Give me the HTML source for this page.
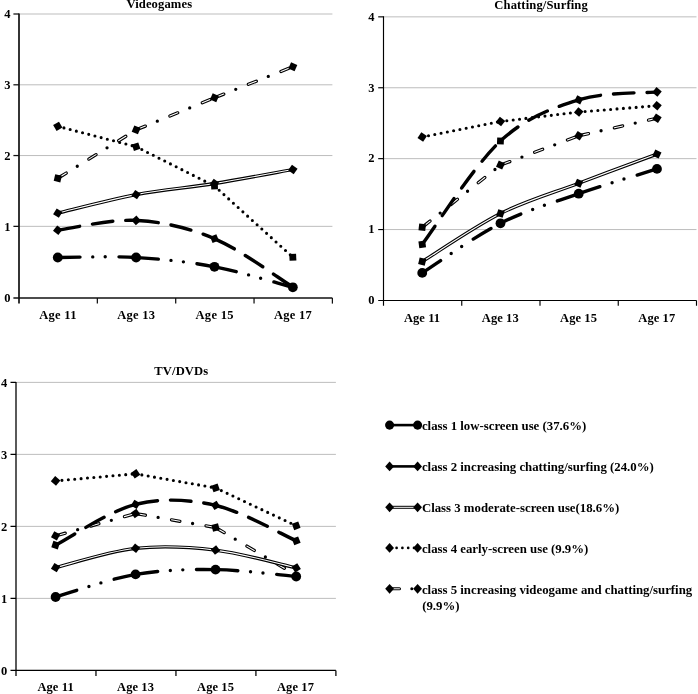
<!DOCTYPE html>
<html><head><meta charset="utf-8"><title>Screen use trajectories</title>
<style>html,body{margin:0;padding:0;background:#fff}svg{display:block}</style></head>
<body>
<svg width="698" height="694" viewBox="0 0 698 694">
<rect width="698" height="694" fill="#fff"/>
<line x1="19" y1="226.35" x2="332.4" y2="226.35" stroke="#bdbdbd" stroke-width="1"/>
<line x1="19" y1="155.55" x2="332.4" y2="155.55" stroke="#bdbdbd" stroke-width="1"/>
<line x1="19" y1="84.8" x2="332.4" y2="84.8" stroke="#bdbdbd" stroke-width="1"/>
<line x1="19" y1="14" x2="332.4" y2="14" stroke="#bdbdbd" stroke-width="1"/>
<line x1="19" y1="13.5" x2="19" y2="303.6" stroke="#111" stroke-width="1.7"/>
<line x1="13.4" y1="298" x2="332.4" y2="298" stroke="#111" stroke-width="1.7"/>
<line x1="13.4" y1="226.35" x2="19" y2="226.35" stroke="#111" stroke-width="1.25"/>
<line x1="13.4" y1="155.55" x2="19" y2="155.55" stroke="#111" stroke-width="1.25"/>
<line x1="13.4" y1="84.8" x2="19" y2="84.8" stroke="#111" stroke-width="1.25"/>
<line x1="13.4" y1="14" x2="19" y2="14" stroke="#111" stroke-width="1.25"/>
<line x1="97.35" y1="298" x2="97.35" y2="303.6" stroke="#111" stroke-width="1.25"/>
<line x1="175.7" y1="298" x2="175.7" y2="303.6" stroke="#111" stroke-width="1.25"/>
<line x1="254.05" y1="298" x2="254.05" y2="303.6" stroke="#111" stroke-width="1.25"/>
<line x1="332.4" y1="298" x2="332.4" y2="303.6" stroke="#111" stroke-width="1.25"/>
<text x="10.6" y="301.8" text-anchor="end" font-size="12.5" font-family="'Liberation Serif', 'Times New Roman', serif" font-weight="bold">0</text>
<text x="10.6" y="230.55" text-anchor="end" font-size="12.5" font-family="'Liberation Serif', 'Times New Roman', serif" font-weight="bold">1</text>
<text x="10.6" y="159.75" text-anchor="end" font-size="12.5" font-family="'Liberation Serif', 'Times New Roman', serif" font-weight="bold">2</text>
<text x="10.6" y="89" text-anchor="end" font-size="12.5" font-family="'Liberation Serif', 'Times New Roman', serif" font-weight="bold">3</text>
<text x="10.6" y="18.2" text-anchor="end" font-size="12.5" font-family="'Liberation Serif', 'Times New Roman', serif" font-weight="bold">4</text>
<text x="57.97" y="319.4" text-anchor="middle" font-size="12.5" letter-spacing="0.3" font-family="'Liberation Serif', 'Times New Roman', serif" font-weight="bold">Age 11</text>
<text x="136.32" y="319.4" text-anchor="middle" font-size="12.5" letter-spacing="0.3" font-family="'Liberation Serif', 'Times New Roman', serif" font-weight="bold">Age 13</text>
<text x="214.68" y="319.4" text-anchor="middle" font-size="12.5" letter-spacing="0.3" font-family="'Liberation Serif', 'Times New Roman', serif" font-weight="bold">Age 15</text>
<text x="293.02" y="319.4" text-anchor="middle" font-size="12.5" letter-spacing="0.3" font-family="'Liberation Serif', 'Times New Roman', serif" font-weight="bold">Age 17</text>
<text x="126.4" y="8.3" font-size="12.6" letter-spacing="0.12" font-family="'Liberation Serif', 'Times New Roman', serif" font-weight="bold">Videogames</text>
<path d="M57.77 178.3L136.12 129.9" fill="none" stroke="#000" stroke-width="3.3" stroke-linecap="round" stroke-dasharray="8.5 12.9 0 13.6" stroke-dashoffset="-1.5"/>
<path d="M57.77 178.3L136.12 129.9" fill="none" stroke="#fff" stroke-width="1.1" stroke-linecap="round" stroke-dasharray="8.5 26.5" stroke-dashoffset="-1.5"/>
<path d="M136.12 129.9L214.47 97.8" fill="none" stroke="#000" stroke-width="3.3" stroke-linecap="round" stroke-dasharray="8.5 12.9 0 13.6" stroke-dashoffset="-1.5"/>
<path d="M136.12 129.9L214.47 97.8" fill="none" stroke="#fff" stroke-width="1.1" stroke-linecap="round" stroke-dasharray="8.5 26.5" stroke-dashoffset="-1.5"/>
<path d="M214.47 97.8L292.82 66.7" fill="none" stroke="#000" stroke-width="3.3" stroke-linecap="round" stroke-dasharray="8.5 12.9 0 13.6" stroke-dashoffset="-1.5"/>
<path d="M214.47 97.8L292.82 66.7" fill="none" stroke="#fff" stroke-width="1.1" stroke-linecap="round" stroke-dasharray="8.5 26.5" stroke-dashoffset="-1.5"/>
<path d="M61.86 175.78L60.3 182.38L53.69 180.82L55.25 174.22Z" fill="#000"/>
<path d="M140.57 128.08L137.94 134.34L131.68 131.72L134.31 125.46Z" fill="#000"/>
<path d="M218.94 96.03L216.25 102.26L210.01 99.57L212.7 93.34Z" fill="#000"/>
<path d="M297.29 64.93L294.6 71.16L288.36 68.47L291.05 62.24Z" fill="#000"/>
<path d="M57.77 126.3L136.12 146.7" fill="none" stroke="#000" stroke-width="3.1" stroke-linecap="round" stroke-dasharray="0 6.4"/>
<path d="M136.12 146.7L214.47 186" fill="none" stroke="#000" stroke-width="3.1" stroke-linecap="round" stroke-dasharray="0 6.4"/>
<path d="M214.47 186L292.82 257.2" fill="none" stroke="#000" stroke-width="3.1" stroke-linecap="round" stroke-dasharray="0 6.4"/>
<path d="M62.42 127.51L56.57 130.95L53.13 125.09L58.98 121.65Z" fill="#000"/>
<path d="M140.42 148.85L133.97 150.99L131.83 144.55L138.28 142.41Z" fill="#000"/>
<path d="M218.03 189.23L211.25 189.55L210.92 182.77L217.7 182.45Z" fill="#000"/>
<path d="M296.38 260.43L289.6 260.75L289.27 253.97L296.05 253.65Z" fill="#000"/>
<path d="M57.77 213.1C70.83 210.02 110.01 199.53 136.12 194.6C162.24 189.67 188.36 187.68 214.47 183.5C240.59 179.32 279.77 171.83 292.82 169.5" fill="none" stroke="#000" stroke-width="3.3" stroke-linecap="round"/>
<path d="M57.77 213.1C70.83 210.02 110.01 199.53 136.12 194.6C162.24 189.67 188.36 187.68 214.47 183.5C240.59 179.32 279.77 171.83 292.82 169.5" fill="none" stroke="#fff" stroke-width="1.1" stroke-linecap="round"/>
<path d="M62.45 212L58.88 217.77L53.1 214.2L56.67 208.43Z" fill="#000"/>
<path d="M140.84 193.71L137.02 199.32L131.41 195.49L135.23 189.88Z" fill="#000"/>
<path d="M219.21 182.74L215.23 188.24L209.74 184.26L213.72 178.76Z" fill="#000"/>
<path d="M297.55 168.66L293.67 174.23L288.1 170.34L291.98 164.77Z" fill="#000"/>
<path d="M57.77 230.2C70.83 228.57 110.01 218.98 136.12 220.4" fill="none" stroke="#000" stroke-width="3.4" stroke-linecap="round" stroke-dasharray="20.6 12.9" stroke-dashoffset="-1.7"/>
<path d="M136.12 220.4C162.24 221.82 188.36 227.6 214.47 238.7" fill="none" stroke="#000" stroke-width="3.4" stroke-linecap="round" stroke-dasharray="20.6 12.9" stroke-dashoffset="-1.7"/>
<path d="M214.47 238.7C240.59 249.8 279.77 278.95 292.82 287" fill="none" stroke="#000" stroke-width="3.4" stroke-linecap="round" stroke-dasharray="20.6 12.9" stroke-dashoffset="-1.7"/>
<path d="M62.54 229.6L58.37 234.96L53.01 230.8L57.18 225.44Z" fill="#000"/>
<path d="M140.92 220.66L135.87 225.19L131.33 220.14L136.38 215.61Z" fill="#000"/>
<path d="M218.89 240.58L212.6 243.12L210.06 236.82L216.35 234.28Z" fill="#000"/>
<path d="M296.91 289.52L290.31 291.09L288.74 284.48L295.34 282.91Z" fill="#000"/>
<path d="M57.77 257.5C70.83 257.5 110.01 255.95 136.12 257.5" fill="none" stroke="#000" stroke-width="3.4" stroke-linecap="round" stroke-dasharray="20.6 12.7 0 12.5 0 13.7" stroke-dashoffset="-1.7"/>
<path d="M136.12 257.5C162.24 259.05 188.36 261.83 214.47 266.8" fill="none" stroke="#000" stroke-width="3.4" stroke-linecap="round" stroke-dasharray="20.6 12.7 0 12.5 0 13.7" stroke-dashoffset="-1.7"/>
<path d="M214.47 266.8C240.59 271.77 279.77 283.88 292.82 287.3" fill="none" stroke="#000" stroke-width="3.4" stroke-linecap="round" stroke-dasharray="20.6 12.7 0 12.5 0 13.7" stroke-dashoffset="-1.7"/>
<circle cx="57.77" cy="257.5" r="4.9" fill="#000"/>
<circle cx="136.12" cy="257.5" r="4.9" fill="#000"/>
<circle cx="214.47" cy="266.8" r="4.9" fill="#000"/>
<circle cx="292.82" cy="287.3" r="4.9" fill="#000"/>
<line x1="383.5" y1="229.55" x2="696.5" y2="229.55" stroke="#bdbdbd" stroke-width="1"/>
<line x1="383.5" y1="158.65" x2="696.5" y2="158.65" stroke="#bdbdbd" stroke-width="1"/>
<line x1="383.5" y1="87.75" x2="696.5" y2="87.75" stroke="#bdbdbd" stroke-width="1"/>
<line x1="383.5" y1="16.85" x2="696.5" y2="16.85" stroke="#bdbdbd" stroke-width="1"/>
<line x1="383.5" y1="16.35" x2="383.5" y2="305.75" stroke="#000" stroke-width="1.15"/>
<line x1="378.2" y1="300.45" x2="696.5" y2="300.45" stroke="#000" stroke-width="1.15"/>
<line x1="378.2" y1="229.55" x2="383.5" y2="229.55" stroke="#000" stroke-width="1.15"/>
<line x1="378.2" y1="158.65" x2="383.5" y2="158.65" stroke="#000" stroke-width="1.15"/>
<line x1="378.2" y1="87.75" x2="383.5" y2="87.75" stroke="#000" stroke-width="1.15"/>
<line x1="378.2" y1="16.85" x2="383.5" y2="16.85" stroke="#000" stroke-width="1.15"/>
<line x1="461.75" y1="300.45" x2="461.75" y2="305.75" stroke="#000" stroke-width="1.15"/>
<line x1="540" y1="300.45" x2="540" y2="305.75" stroke="#000" stroke-width="1.15"/>
<line x1="618.25" y1="300.45" x2="618.25" y2="305.75" stroke="#000" stroke-width="1.15"/>
<line x1="696.5" y1="300.45" x2="696.5" y2="305.75" stroke="#000" stroke-width="1.15"/>
<text x="374.45" y="304.25" text-anchor="end" font-size="12.5" font-family="'Liberation Serif', 'Times New Roman', serif" font-weight="bold">0</text>
<text x="374.45" y="233.35" text-anchor="end" font-size="12.5" font-family="'Liberation Serif', 'Times New Roman', serif" font-weight="bold">1</text>
<text x="374.45" y="162.45" text-anchor="end" font-size="12.5" font-family="'Liberation Serif', 'Times New Roman', serif" font-weight="bold">2</text>
<text x="374.45" y="91.55" text-anchor="end" font-size="12.5" font-family="'Liberation Serif', 'Times New Roman', serif" font-weight="bold">3</text>
<text x="374.45" y="20.65" text-anchor="end" font-size="12.5" font-family="'Liberation Serif', 'Times New Roman', serif" font-weight="bold">4</text>
<text x="422.02" y="321.5" text-anchor="middle" font-size="12.5" letter-spacing="0.08" font-family="'Liberation Serif', 'Times New Roman', serif" font-weight="bold">Age 11</text>
<text x="500.27" y="321.5" text-anchor="middle" font-size="12.5" letter-spacing="0.08" font-family="'Liberation Serif', 'Times New Roman', serif" font-weight="bold">Age 13</text>
<text x="578.52" y="321.5" text-anchor="middle" font-size="12.5" letter-spacing="0.08" font-family="'Liberation Serif', 'Times New Roman', serif" font-weight="bold">Age 15</text>
<text x="656.77" y="321.5" text-anchor="middle" font-size="12.5" letter-spacing="0.08" font-family="'Liberation Serif', 'Times New Roman', serif" font-weight="bold">Age 17</text>
<text x="494.3" y="9.3" font-size="12.6" letter-spacing="0.12" font-family="'Liberation Serif', 'Times New Roman', serif" font-weight="bold">Chatting/Surfing</text>
<path d="M422.23 227.3L500.48 165.1" fill="none" stroke="#000" stroke-width="3.3" stroke-linecap="round" stroke-dasharray="8.5 12.9 0 13.6" stroke-dashoffset="-1.5"/>
<path d="M422.23 227.3L500.48 165.1" fill="none" stroke="#fff" stroke-width="1.1" stroke-linecap="round" stroke-dasharray="8.5 26.5" stroke-dashoffset="-1.5"/>
<path d="M500.48 165.1L578.73 135.8" fill="none" stroke="#000" stroke-width="3.3" stroke-linecap="round" stroke-dasharray="8.5 12.9 0 13.6" stroke-dashoffset="-1.5"/>
<path d="M500.48 165.1L578.73 135.8" fill="none" stroke="#fff" stroke-width="1.1" stroke-linecap="round" stroke-dasharray="8.5 26.5" stroke-dashoffset="-1.5"/>
<path d="M578.73 135.8L656.98 118.2" fill="none" stroke="#000" stroke-width="3.3" stroke-linecap="round" stroke-dasharray="8.5 12.9 0 13.6" stroke-dashoffset="-1.5"/>
<path d="M578.73 135.8L656.98 118.2" fill="none" stroke="#fff" stroke-width="1.1" stroke-linecap="round" stroke-dasharray="8.5 26.5" stroke-dashoffset="-1.5"/>
<path d="M425.98 224.31L425.21 231.06L418.47 230.29L419.24 223.54Z" fill="#000"/>
<path d="M504.97 163.42L502.16 169.6L495.98 166.78L498.79 160.6Z" fill="#000"/>
<path d="M583.41 134.75L579.78 140.48L574.04 136.85L577.67 131.12Z" fill="#000"/>
<path d="M661.66 117.15L658.03 122.88L652.29 119.25L655.92 113.52Z" fill="#000"/>
<path d="M422.23 137L500.48 121.5" fill="none" stroke="#000" stroke-width="3.1" stroke-linecap="round" stroke-dasharray="0 6.4"/>
<path d="M500.48 121.5L578.73 112" fill="none" stroke="#000" stroke-width="3.1" stroke-linecap="round" stroke-dasharray="0 6.4"/>
<path d="M578.73 112L656.98 105.7" fill="none" stroke="#000" stroke-width="3.1" stroke-linecap="round" stroke-dasharray="0 6.4"/>
<path d="M426.93 136.07L423.16 141.71L417.52 137.93L421.29 132.29Z" fill="#000"/>
<path d="M505.24 120.92L501.05 126.27L495.71 122.08L499.9 116.73Z" fill="#000"/>
<path d="M583.51 111.61L579.11 116.78L573.94 112.39L578.34 107.22Z" fill="#000"/>
<path d="M661.76 105.31L657.36 110.48L652.19 106.09L656.59 100.92Z" fill="#000"/>
<path d="M422.23 261.6C435.27 253.58 474.39 226.57 500.48 213.5C526.56 200.43 552.64 193.1 578.73 183.2C604.81 173.3 643.93 158.95 656.98 154.1" fill="none" stroke="#000" stroke-width="3.3" stroke-linecap="round"/>
<path d="M422.23 261.6C435.27 253.58 474.39 226.57 500.48 213.5C526.56 200.43 552.64 193.1 578.73 183.2C604.81 173.3 643.93 158.95 656.98 154.1" fill="none" stroke="#fff" stroke-width="1.1" stroke-linecap="round"/>
<path d="M426.31 259.09L424.74 265.69L418.14 264.11L419.71 257.51Z" fill="#000"/>
<path d="M504.77 211.35L502.62 217.79L496.18 215.65L498.33 209.21Z" fill="#000"/>
<path d="M583.21 181.5L580.43 187.69L574.24 184.9L577.02 178.71Z" fill="#000"/>
<path d="M661.47 152.43L658.65 158.6L652.48 155.77L655.3 149.6Z" fill="#000"/>
<path d="M422.23 244.3C435.27 227.08 474.39 165.07 500.48 141" fill="none" stroke="#000" stroke-width="3.4" stroke-linecap="round" stroke-dasharray="20.6 12.9" stroke-dashoffset="-1.7"/>
<path d="M500.48 141C526.56 116.93 552.64 108.08 578.73 99.9" fill="none" stroke="#000" stroke-width="3.4" stroke-linecap="round" stroke-dasharray="20.6 12.9" stroke-dashoffset="-1.7"/>
<path d="M578.73 99.9C604.81 91.72 643.93 93.23 656.98 91.9" fill="none" stroke="#000" stroke-width="3.4" stroke-linecap="round" stroke-dasharray="20.6 12.9" stroke-dashoffset="-1.7"/>
<path d="M425.12 240.47L426.05 247.2L419.33 248.13L418.4 241.4Z" fill="#000"/>
<path d="M504 137.75L503.73 144.53L496.95 144.25L497.22 137.47Z" fill="#000"/>
<path d="M583.3 98.46L580.16 104.48L574.15 101.34L577.29 95.32Z" fill="#000"/>
<path d="M661.75 91.41L657.46 96.68L652.2 92.39L656.49 87.12Z" fill="#000"/>
<path d="M422.23 272.9C435.27 264.63 474.39 236.5 500.48 223.3" fill="none" stroke="#000" stroke-width="3.4" stroke-linecap="round" stroke-dasharray="20.6 12.7 0 12.5 0 13.7" stroke-dashoffset="-1.7"/>
<path d="M500.48 223.3C526.56 210.1 552.64 202.77 578.73 193.7" fill="none" stroke="#000" stroke-width="3.4" stroke-linecap="round" stroke-dasharray="20.6 12.7 0 12.5 0 13.7" stroke-dashoffset="-1.7"/>
<path d="M578.73 193.7C604.81 184.63 643.93 173.03 656.98 168.9" fill="none" stroke="#000" stroke-width="3.4" stroke-linecap="round" stroke-dasharray="20.6 12.7 0 12.5 0 13.7" stroke-dashoffset="-1.7"/>
<circle cx="422.23" cy="272.9" r="4.9" fill="#000"/>
<circle cx="500.48" cy="223.3" r="4.9" fill="#000"/>
<circle cx="578.73" cy="193.7" r="4.9" fill="#000"/>
<circle cx="656.98" cy="168.9" r="4.9" fill="#000"/>
<line x1="16" y1="598.38" x2="335.9" y2="598.38" stroke="#bdbdbd" stroke-width="1"/>
<line x1="16" y1="526.38" x2="335.9" y2="526.38" stroke="#bdbdbd" stroke-width="1"/>
<line x1="16" y1="454.38" x2="335.9" y2="454.38" stroke="#bdbdbd" stroke-width="1"/>
<line x1="16" y1="382.38" x2="335.9" y2="382.38" stroke="#bdbdbd" stroke-width="1"/>
<line x1="16" y1="381.88" x2="16" y2="675.88" stroke="#000" stroke-width="1.3"/>
<line x1="10.5" y1="670.38" x2="335.9" y2="670.38" stroke="#000" stroke-width="1.3"/>
<line x1="10.5" y1="598.38" x2="16" y2="598.38" stroke="#000" stroke-width="1.25"/>
<line x1="10.5" y1="526.38" x2="16" y2="526.38" stroke="#000" stroke-width="1.25"/>
<line x1="10.5" y1="454.38" x2="16" y2="454.38" stroke="#000" stroke-width="1.25"/>
<line x1="10.5" y1="382.38" x2="16" y2="382.38" stroke="#000" stroke-width="1.25"/>
<line x1="95.97" y1="670.38" x2="95.97" y2="675.88" stroke="#000" stroke-width="1.25"/>
<line x1="175.95" y1="670.38" x2="175.95" y2="675.88" stroke="#000" stroke-width="1.25"/>
<line x1="255.92" y1="670.38" x2="255.92" y2="675.88" stroke="#000" stroke-width="1.25"/>
<line x1="335.9" y1="670.38" x2="335.9" y2="675.88" stroke="#000" stroke-width="1.25"/>
<text x="7.2" y="674.53" text-anchor="end" font-size="12.5" font-family="'Liberation Serif', 'Times New Roman', serif" font-weight="bold">0</text>
<text x="7.2" y="602.53" text-anchor="end" font-size="12.5" font-family="'Liberation Serif', 'Times New Roman', serif" font-weight="bold">1</text>
<text x="7.2" y="530.53" text-anchor="end" font-size="12.5" font-family="'Liberation Serif', 'Times New Roman', serif" font-weight="bold">2</text>
<text x="7.2" y="458.53" text-anchor="end" font-size="12.5" font-family="'Liberation Serif', 'Times New Roman', serif" font-weight="bold">3</text>
<text x="7.2" y="386.53" text-anchor="end" font-size="12.5" font-family="'Liberation Serif', 'Times New Roman', serif" font-weight="bold">4</text>
<text x="55.59" y="690.7" text-anchor="middle" font-size="12.5" letter-spacing="0.1" font-family="'Liberation Serif', 'Times New Roman', serif" font-weight="bold">Age 11</text>
<text x="135.56" y="690.7" text-anchor="middle" font-size="12.5" letter-spacing="0.1" font-family="'Liberation Serif', 'Times New Roman', serif" font-weight="bold">Age 13</text>
<text x="215.54" y="690.7" text-anchor="middle" font-size="12.5" letter-spacing="0.1" font-family="'Liberation Serif', 'Times New Roman', serif" font-weight="bold">Age 15</text>
<text x="295.51" y="690.7" text-anchor="middle" font-size="12.5" letter-spacing="0.1" font-family="'Liberation Serif', 'Times New Roman', serif" font-weight="bold">Age 17</text>
<text x="154.3" y="374.6" font-size="12.6" letter-spacing="0.12" font-family="'Liberation Serif', 'Times New Roman', serif" font-weight="bold">TV/DVDs</text>
<path d="M55.59 535.9L135.56 513.5" fill="none" stroke="#000" stroke-width="3.3" stroke-linecap="round" stroke-dasharray="8.5 12.9 0 13.6" stroke-dashoffset="-1.5"/>
<path d="M55.59 535.9L135.56 513.5" fill="none" stroke="#fff" stroke-width="1.1" stroke-linecap="round" stroke-dasharray="8.5 26.5" stroke-dashoffset="-1.5"/>
<path d="M135.56 513.5L215.54 527.5" fill="none" stroke="#000" stroke-width="3.3" stroke-linecap="round" stroke-dasharray="8.5 12.9 0 13.6" stroke-dashoffset="-1.5"/>
<path d="M135.56 513.5L215.54 527.5" fill="none" stroke="#fff" stroke-width="1.1" stroke-linecap="round" stroke-dasharray="8.5 26.5" stroke-dashoffset="-1.5"/>
<path d="M215.54 527.5L296.21 575.3" fill="none" stroke="#000" stroke-width="3.3" stroke-linecap="round" stroke-dasharray="8.5 12.9 0 13.6" stroke-dashoffset="-1.5"/>
<path d="M215.54 527.5L296.21 575.3" fill="none" stroke="#fff" stroke-width="1.1" stroke-linecap="round" stroke-dasharray="8.5 26.5" stroke-dashoffset="-1.5"/>
<path d="M60.21 534.61L56.88 540.52L50.97 537.19L54.29 531.28Z" fill="#000"/>
<path d="M140.29 514.33L134.73 518.23L130.83 512.67L136.39 508.77Z" fill="#000"/>
<path d="M219.67 529.95L213.09 531.63L211.41 525.05L217.98 523.37Z" fill="#000"/>
<path d="M55.59 480.9L135.56 473.8" fill="none" stroke="#000" stroke-width="3.1" stroke-linecap="round" stroke-dasharray="0 6.4"/>
<path d="M135.56 473.8L215.54 487.9" fill="none" stroke="#000" stroke-width="3.1" stroke-linecap="round" stroke-dasharray="0 6.4"/>
<path d="M215.54 487.9L296.21 525.8" fill="none" stroke="#000" stroke-width="3.1" stroke-linecap="round" stroke-dasharray="0 6.4"/>
<path d="M60.37 480.48L56.01 485.68L50.81 481.32L55.16 476.12Z" fill="#000"/>
<path d="M140.29 474.63L134.73 478.53L130.84 472.97L136.4 469.07Z" fill="#000"/>
<path d="M219.88 489.94L213.5 492.24L211.19 485.86L217.58 483.56Z" fill="#000"/>
<path d="M300.56 527.84L294.17 530.14L291.87 523.76L298.25 521.46Z" fill="#000"/>
<path d="M55.59 567.6C68.92 564.38 108.9 551.22 135.56 548.3C162.22 545.38 188.76 546.83 215.54 550.1C242.31 553.37 282.77 564.93 296.21 567.9" fill="none" stroke="#000" stroke-width="3.3" stroke-linecap="round"/>
<path d="M55.59 567.6C68.92 564.38 108.9 551.22 135.56 548.3C162.22 545.38 188.76 546.83 215.54 550.1C242.31 553.37 282.77 564.93 296.21 567.9" fill="none" stroke="#fff" stroke-width="1.1" stroke-linecap="round"/>
<path d="M60.25 566.47L56.71 572.27L50.92 568.73L54.46 562.93Z" fill="#000"/>
<path d="M140.33 547.78L136.08 553.07L130.79 548.82L135.04 543.53Z" fill="#000"/>
<path d="M220.3 550.68L214.96 554.86L210.77 549.52L216.12 545.34Z" fill="#000"/>
<path d="M300.9 568.93L295.18 572.59L291.53 566.87L297.25 563.21Z" fill="#000"/>
<path d="M55.59 545.1C68.92 538.32 108.9 511.02 135.56 504.4" fill="none" stroke="#000" stroke-width="3.4" stroke-linecap="round" stroke-dasharray="20.6 12.9" stroke-dashoffset="-1.7"/>
<path d="M135.56 504.4C162.22 497.78 188.76 499.33 215.54 505.4" fill="none" stroke="#000" stroke-width="3.4" stroke-linecap="round" stroke-dasharray="20.6 12.9" stroke-dashoffset="-1.7"/>
<path d="M215.54 505.4C242.31 511.47 282.77 534.9 296.21 540.8" fill="none" stroke="#000" stroke-width="3.4" stroke-linecap="round" stroke-dasharray="20.6 12.9" stroke-dashoffset="-1.7"/>
<path d="M59.87 542.92L57.76 549.38L51.31 547.28L53.41 540.82Z" fill="#000"/>
<path d="M140.22 503.24L136.72 509.06L130.9 505.56L134.41 499.74Z" fill="#000"/>
<path d="M220.22 506.46L214.48 510.08L210.86 504.34L216.6 500.72Z" fill="#000"/>
<path d="M300.61 542.73L294.28 545.2L291.82 538.87L298.14 536.4Z" fill="#000"/>
<path d="M55.59 597C68.92 593.23 108.9 578.97 135.56 574.4" fill="none" stroke="#000" stroke-width="3.4" stroke-linecap="round" stroke-dasharray="20.6 12.7 0 12.5 0 13.7" stroke-dashoffset="-1.7"/>
<path d="M135.56 574.4C162.22 569.83 188.76 569.25 215.54 569.6" fill="none" stroke="#000" stroke-width="3.4" stroke-linecap="round" stroke-dasharray="20.6 12.7 0 12.5 0 13.7" stroke-dashoffset="-1.7"/>
<path d="M215.54 569.6C242.31 569.95 282.77 575.35 296.21 576.5" fill="none" stroke="#000" stroke-width="3.4" stroke-linecap="round" stroke-dasharray="20.6 12.7 0 12.5 0 13.7" stroke-dashoffset="-1.7"/>
<circle cx="55.59" cy="597" r="4.9" fill="#000"/>
<circle cx="135.56" cy="574.4" r="4.9" fill="#000"/>
<circle cx="215.54" cy="569.6" r="4.9" fill="#000"/>
<circle cx="296.21" cy="576.5" r="4.9" fill="#000"/>
<path d="M389.6 425.1L417.6 425.1" stroke="#000" stroke-width="2.6" fill="none"/>
<circle cx="389.6" cy="425.1" r="4.55" fill="#000"/>
<circle cx="417.6" cy="425.1" r="4.55" fill="#000"/>
<text x="421.9" y="429.9" font-size="12.8" font-family="'Liberation Serif', 'Times New Roman', serif" font-weight="bold">class 1 low-screen use (37.6%)</text>
<path d="M389.6 466.4L417.6 466.4" stroke="#000" stroke-width="2.6" fill="none"/>
<path d="M385.2 466.4L389.6 461.5L394 466.4L389.6 471.3Z" fill="#000"/>
<path d="M413.2 466.4L417.6 461.5L422 466.4L417.6 471.3Z" fill="#000"/>
<text x="421.9" y="471.2" font-size="12.8" font-family="'Liberation Serif', 'Times New Roman', serif" font-weight="bold">class 2 increasing chatting/surfing (24.0%)</text>
<path d="M389.6 507.3L417.6 507.3" stroke="#000" stroke-width="3" fill="none"/>
<path d="M389.6 507.3L417.6 507.3" stroke="#fff" stroke-width="1" fill="none"/>
<path d="M385.2 507.3L389.6 502.4L394 507.3L389.6 512.2Z" fill="#000"/>
<path d="M413.2 507.3L417.6 502.4L422 507.3L417.6 512.2Z" fill="#000"/>
<text x="421.9" y="512.1" font-size="12.8" font-family="'Liberation Serif', 'Times New Roman', serif" font-weight="bold">Class 3 moderate-screen use(18.6%)</text>
<path d="M389.6 547.9L417.6 547.9" stroke="#000" stroke-width="2.7" fill="none" stroke-linecap="round" stroke-dasharray="0 5.8" stroke-dashoffset="-1.2"/>
<path d="M385.2 547.9L389.6 543L394 547.9L389.6 552.8Z" fill="#000"/>
<path d="M413.2 547.9L417.6 543L422 547.9L417.6 552.8Z" fill="#000"/>
<text x="421.9" y="552.7" font-size="12.8" font-family="'Liberation Serif', 'Times New Roman', serif" font-weight="bold">class 4 early-screen use (9.9%)</text>
<path d="M389.6 588.8L417.6 588.8" fill="none" stroke="#000" stroke-width="3" stroke-linecap="round" stroke-dasharray="8.4 12.3 0 20" stroke-dashoffset="-1.5"/>
<path d="M389.6 588.8L417.6 588.8" fill="none" stroke="#fff" stroke-width="1" stroke-linecap="round" stroke-dasharray="8.4 32.3" stroke-dashoffset="-1.5"/>
<path d="M385.2 588.8L389.6 583.9L394 588.8L389.6 593.7Z" fill="#000"/>
<path d="M413.2 588.8L417.6 583.9L422 588.8L417.6 593.7Z" fill="#000"/>
<text x="421.9" y="593.6" font-size="12.8" font-family="'Liberation Serif', 'Times New Roman', serif" font-weight="bold">class 5 increasing videogame and chatting/surfing</text>
<text x="422.2" y="609.5" font-size="12.8" font-family="'Liberation Serif', 'Times New Roman', serif" font-weight="bold">(9.9%)</text>
</svg>
</body></html>
